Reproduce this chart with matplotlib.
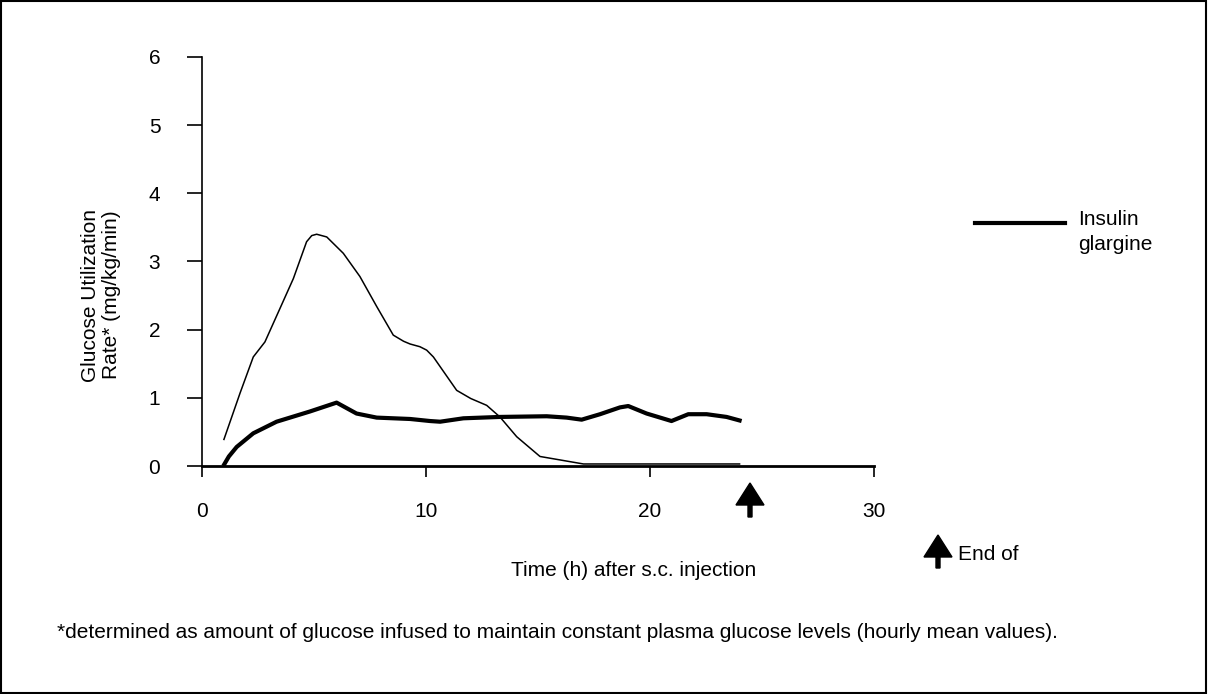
import matplotlib
matplotlib.use("Agg")
import matplotlib.pyplot as plt
from matplotlib.patches import FancyArrow, Rectangle

plt.rcParams['font.family'] = ['Liberation Sans', 'DejaVu Sans']

# thin curve (comparator, no legend entry)
t_thin = [0.98, 1.70, 2.29, 2.81, 3.48, 4.08, 4.67, 4.9, 5.12, 5.57, 6.31, 7.05, 7.8, 8.54,
          9.0, 9.29, 9.73, 10.03, 10.33, 11.37, 12.0, 12.71, 13.3, 14.05, 15.09, 17.03, 24.0]
gur_thin = [0.39, 1.07, 1.60, 1.82, 2.31, 2.75, 3.29, 3.38, 3.40, 3.36, 3.12, 2.78, 2.34, 1.92,
            1.83, 1.79, 1.75, 1.70, 1.60, 1.11, 0.99, 0.89, 0.72, 0.43, 0.14, 0.03, 0.03]

# thick curve: insulin glargine
t_glar = [0.95, 1.2, 1.55, 2.29, 3.33, 4.82, 6.01, 6.9, 7.8, 9.29, 10.18, 10.63, 11.67, 13.3,
          15.39, 16.28, 16.95, 17.77, 18.66, 19.03, 19.85, 20.96, 21.71, 22.53, 23.42, 24.09]
gur_glar = [0.0, 0.14, 0.28, 0.48, 0.65, 0.80, 0.93, 0.77, 0.71, 0.69, 0.66, 0.65, 0.70, 0.72,
            0.73, 0.71, 0.68, 0.76, 0.86, 0.88, 0.77, 0.66, 0.76, 0.76, 0.72, 0.66]

xticks = [0, 10, 20, 30]
yticks = [0, 1, 2, 3, 4, 5, 6]

fig = plt.figure(figsize=(12.08, 6.94), dpi=100)
ax = fig.add_axes([0.1672, 0.3285, 0.5563, 0.5894])

ax.plot(t_thin, gur_thin, color='black', lw=1.1, solid_joinstyle='round')
ax.plot(t_glar, gur_glar, color='black', lw=3.0, solid_capstyle='butt',
        solid_joinstyle='round')

ax.set_xlim(0, 30)
ax.set_ylim(0, 6)
ax.set_xticks(xticks)
ax.set_yticks(yticks)
ax.spines['top'].set_visible(False)
ax.spines['right'].set_visible(False)
ax.spines['left'].set_linewidth(1.2)
ax.spines['bottom'].set_linewidth(2.0)
ax.tick_params(axis='y', direction='out', length=11, width=1.2, labelsize=15, pad=19)
ax.tick_params(axis='x', direction='out', length=8, width=1.2, labelsize=15, pad=18)

fig.text(634 / 1208, 1 - 570 / 694, 'Time (h) after s.c. injection', fontsize=15,
         ha='center', va='center')
fig.text(101 / 1208, 1 - 295 / 694, 'Glucose Utilization\nRate* (mg/kg/min)', rotation=90,
         ha='center', va='center', fontsize=15, linespacing=1.15)

# legend entry drawn by hand
fig.add_artist(plt.Line2D([975 / 1208, 1065 / 1208], [1 - 223 / 694, 1 - 223 / 694],
                          color='black', lw=3.0))
fig.text(1078 / 1208, 1 - 232 / 694, 'Insulin\nglargine', fontsize=15,
         va='center', ha='left', linespacing=1.35)

# arrows (inches)
for x0, yb, yt in [(7.50, 1.77, 2.11), (9.38, 1.26, 1.59)]:
    fig.add_artist(FancyArrow(x0, yb, 0, yt - yb, width=0.04, head_width=0.28,
                              head_length=0.22, length_includes_head=True,
                              color='black', transform=fig.dpi_scale_trans))
fig.text(958 / 1208, 1 - 554 / 694, 'End of', fontsize=15, va='center', ha='left')

fig.text(57 / 1208, 1 - 632 / 694,
         '*determined as amount of glucose infused to maintain constant plasma glucose levels (hourly mean values).',
         fontsize=15, va='center', ha='left')

fig.add_artist(Rectangle((0.001, 0.002), 0.997, 0.996, transform=fig.transFigure,
                         fill=False, edgecolor='black', lw=1.5))

fig.savefig('out.png', dpi=100)
